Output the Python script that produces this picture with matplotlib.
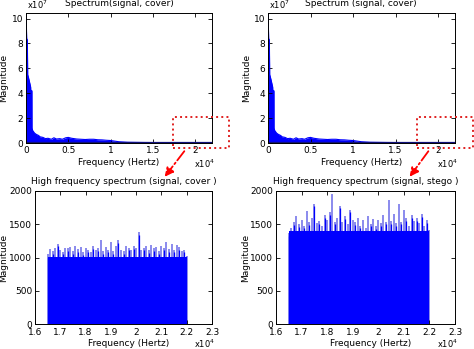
import numpy as np
import matplotlib
matplotlib.use("Agg")
import matplotlib.pyplot as plt
from matplotlib.patches import Rectangle, FancyArrowPatch

# full spectrum envelope (Hz, magnitude), same for both top panels
full_freq = [0, 40, 80, 160, 200, 280, 350, 450, 550, 560, 700, 710, 790,
             900, 1000, 1200, 1500, 1650, 2000, 2300, 2600, 3000, 3300, 3600,
             4000, 4300, 4700, 5000, 5400, 6000, 6500, 7000, 7500, 8000, 8500,
             9000, 9500, 10000, 10500, 11000, 12000, 14000, 16000, 18000,
             20000, 22000]
full_mag = [10.4, 9.6, 8.4, 8.3, 5.5, 5.3, 5.1, 4.8, 4.5, 4.25, 4.2, 1.2,
            1.0, 0.9, 0.8, 0.7, 0.6, 0.5, 0.45, 0.35, 0.38, 0.3, 0.42, 0.32,
            0.35, 0.3, 0.42, 0.45, 0.38, 0.32, 0.3, 0.28, 0.3, 0.3, 0.26,
            0.25, 0.22, 0.2, 0.15, 0.1, 0.06, 0.04, 0.03, 0.02, 0.02, 0.02]
full_mag = [m * 1e7 for m in full_mag]

# high frequency part, one reading per 100 Hz from 16500 to 22000 Hz
hf_freq = list(range(16500, 22001, 100))
cover_peak = [1050, 1130, 1100, 1150, 1210, 1120, 1090, 1150, 1140, 1160,
              1100, 1170, 1130, 1160, 1080, 1150, 1120, 1090, 1170, 1110,
              1140, 1270, 1100, 1160, 1120, 1230, 1100, 1170, 1260, 1110,
              1100, 1180, 1150, 1120, 1170, 1140, 1380, 1120, 1150, 1180,
              1110, 1190, 1140, 1160, 1100, 1180, 1150, 1240, 1130, 1210,
              1120, 1190, 1160, 1100, 1120, 1030]
stego_peak = [1370, 1450, 1530, 1620, 1500, 1560, 1480, 1700, 1530, 1600,
              1810, 1520, 1550, 1480, 1640, 1560, 1680, 1950, 1540, 1600,
              1780, 1530, 1620, 1500, 1720, 1570, 1530, 1600, 1480, 1560,
              1440, 1620, 1510, 1580, 1470, 1560, 1520, 1640, 1540, 1860,
              1550, 1650, 1520, 1800, 1540, 1720, 1590, 1480, 1640, 1550,
              1590, 1520, 1650, 1480, 1560, 1420]
cover_body = 1010
stego_body = 1400

W, H = 474, 349
def fx(px):
    return px / W
def fy(py):
    return 1 - py / H
def box(l, t, r, b):
    return [fx(l), fy(b), fx(r) - fx(l), fy(t) - fy(b)]

fig = plt.figure(figsize=(4.74, 3.49), dpi=100)
FS = 6.5
BLUE = "#0000ff"
LIGHT = "#6b6be8"

def style(ax):
    ax.tick_params(direction="in", length=3, width=0.6, labelsize=FS,
                   top=True, right=True, pad=2)
    for s in ax.spines.values():
        s.set_linewidth(0.7)

# ---- top panels ----
for (l, r), title_txt, ylab_x, tx in [((26, 212), "Spectrum(signal, cover)", 4, 119),
                                      ((268, 455), "Spectrum (signal, cover)", 247, 361)]:
    ax = fig.add_axes(box(l, 13, r, 143))
    ax.fill_between(full_freq, 0, full_mag, color=BLUE, lw=0)
    ax.plot(full_freq, full_mag, color=BLUE, lw=0.8)
    ax.plot([0, 22000], [1e5, 1e5], color="#10107a", lw=1.6)
    ax.set_xlim(0, 22000)
    ax.set_ylim(0, 1.045e8)
    ax.set_xticks([0, 5000, 10000, 15000, 20000])
    ax.set_xticklabels(["0", "0.5", "1", "1.5", "2"])
    ax.set_yticks([0, 2e7, 4e7, 6e7, 8e7, 10e7])
    ax.set_yticklabels(["0", "2", "4", "6", "8", "10"])
    style(ax)
    fig.text(fx(tx), fy(4), title_txt, ha="center", va="center", fontsize=FS)
    fig.text(fx((l + r) / 2), fy(163), "Frequency (Hertz)", ha="center",
             va="center", fontsize=FS)
    fig.text(fx(r - 18), fy(164), "x10$^4$", ha="left", va="center", fontsize=FS - 0.5)
    fig.text(fx(l + 1), fy(5), "x10$^7$", ha="left", va="center", fontsize=FS - 0.5)
    fig.text(fx(ylab_x), fy(78), "Magnitude", ha="center", va="center",
             rotation=90, fontsize=FS)

# ---- bottom panels ----
for (l, r), peaks, body, title_txt, ylab_x in [
        ((35, 212), cover_peak, cover_body,
         "High frequency spectrum (signal, cover )", 4),
        ((276, 455), stego_peak, stego_body,
         "High frequency spectrum (signal, stego )", 246)]:
    ax = fig.add_axes(box(l, 191, r, 324))
    ax.vlines(hf_freq, 0, peaks, color=LIGHT, lw=1.1, zorder=1)
    ax.vlines(hf_freq[::2], 0, [p - 40 for p in peaks[::2]], color=BLUE,
              lw=0.9, zorder=2)
    ax.fill_between([hf_freq[0], hf_freq[-1]], 0, [body, body], color=BLUE,
                    lw=0, zorder=3)
    ax.set_xlim(16000, 23000)
    ax.set_ylim(0, 2000)
    ax.set_xticks(list(range(16000, 23001, 1000)))
    ax.set_xticklabels(["1.6", "1.7", "1.8", "1.9", "2", "2.1", "2.2", "2.3"])
    ax.set_yticks([0, 500, 1000, 1500, 2000])
    style(ax)
    ax.tick_params(axis="x", pad=3)
    fig.text(fx((l + r) / 2), fy(181), title_txt, ha="center", va="center", fontsize=FS)
    fig.text(fx((l + r) / 2 + 5), fy(344), "Frequency (Hertz)", ha="center",
             va="center", fontsize=FS)
    fig.text(fx(r - 18), fy(344), "x10$^4$", ha="left", va="center", fontsize=FS - 0.5)
    fig.text(fx(ylab_x), fy(258), "Magnitude", ha="center", va="center",
             rotation=90, fontsize=FS)

# ---- red zoom boxes and arrows ----
for (l, t, r, b), start, end in [((173, 117, 229, 148), (186, 149), (163, 179)),
                                 ((417, 117, 473, 148), (430, 149), (408, 179))]:
    fig.patches.append(Rectangle((fx(l), fy(b)), fx(r) - fx(l), fy(t) - fy(b),
                                 transform=fig.transFigure, fill=False,
                                 edgecolor="#e02020", lw=1.4, ls=":"))
    fig.patches.append(FancyArrowPatch((fx(start[0]), fy(start[1])),
                                       (fx(end[0]), fy(end[1])),
                                       transform=fig.transFigure,
                                       arrowstyle="-|>", mutation_scale=13,
                                       color="red", lw=1.3, ls="-."))

fig.savefig("out.png", dpi=100)
